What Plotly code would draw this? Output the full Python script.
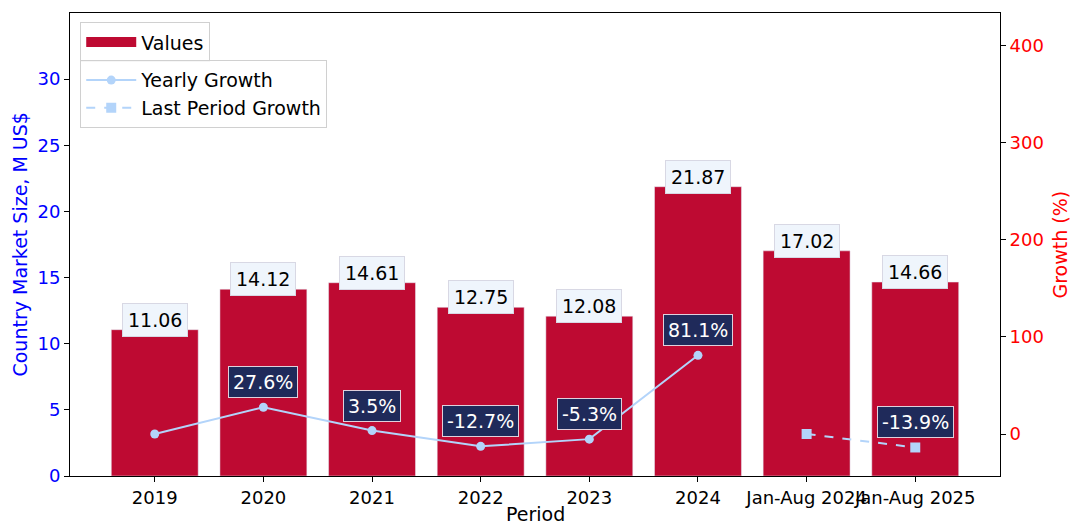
import plotly.graph_objects as go

# ---- data ----
periods = ['2019', '2020', '2021', '2022', '2023', '2024', 'Jan-Aug 2024', 'Jan-Aug 2025']
values = [11.06, 14.12, 14.61, 12.75, 12.08, 21.87, 17.02, 14.66]
yearly_periods = ['2019', '2020', '2021', '2022', '2023', '2024']
yearly_growth = [0, 27.6, 3.5, -12.7, -5.3, 81.1]
last_periods = ['Jan-Aug 2024', 'Jan-Aug 2025']
last_growth = [0, -13.9]

FONT = 'DejaVu Sans'
BAR = '#BE0A32'
LINE = '#B3D4FA'

fig = go.Figure()

fig.add_trace(go.Bar(x=periods, y=values, name='Values', marker_color=BAR,
                     width=0.8, showlegend=False))
# legend entry for the bars (wide patch like the original)
fig.add_trace(go.Scatter(x=[None], y=[None], name='Values', mode='lines',
                         line=dict(color=BAR, width=14), legend='legend'))
fig.add_trace(go.Scatter(x=yearly_periods, y=yearly_growth, name='Yearly Growth',
                         mode='lines+markers', yaxis='y2', legend='legend2',
                         line=dict(color=LINE, width=2),
                         marker=dict(color=LINE, size=9, symbol='circle')))
fig.add_trace(go.Scatter(x=last_periods, y=last_growth, name='Last Period Growth',
                         mode='lines+markers', yaxis='y2', legend='legend2',
                         line=dict(color=LINE, width=2, dash='dash'),
                         marker=dict(color=LINE, size=10, symbol='square')))

# value labels above bars
for i, v in enumerate(values):
    fig.add_annotation(x=i, y=v, yref='y', text=f'{v:.2f}', showarrow=False,
                       yshift=10, font=dict(family=FONT, size=19, color='black'),
                       bgcolor='#EFF5FC', bordercolor='#D8D8E4', borderwidth=1,
                       borderpad=5)

# growth labels (skip the first point of each series)
for per, g in [(yearly_periods, yearly_growth), (last_periods, last_growth)]:
    for p, v in list(zip(per, g))[1:]:
        fig.add_annotation(x=periods.index(p), y=v, yref='y2', text=f'{v:.1f}%',
                           showarrow=False, yshift=25,
                           font=dict(family=FONT, size=19, color='white'),
                           bgcolor='#1F2A5A', bordercolor='#E0D0DC', borderwidth=1,
                           borderpad=4)

# axis titles
fig.add_annotation(xref='paper', yref='paper', x=0.5, y=-0.082, yanchor='middle',
                   text='Period', showarrow=False, font=dict(size=19, color='black'))
fig.add_annotation(xref='paper', x=-0.0548, xanchor='center', yref='paper', y=0.5,
                   text='Country Market Size, M US$', textangle=-90, showarrow=False,
                   font=dict(size=19, color='#0000FF'))
fig.add_annotation(xref='paper', x=1.0635, xanchor='center', yref='paper', y=0.5,
                   text='Growth (%)', textangle=-90, showarrow=False,
                   font=dict(size=19, color='#FF0000'))

fig.update_layout(
    width=1070, height=524,
    margin=dict(l=70, r=70, t=13, b=48),
    plot_bgcolor='white', paper_bgcolor='white',
    font=dict(family=FONT, size=18, color='black'),
    xaxis=dict(type='category', range=[-0.78, 7.78], tickangle=0, automargin=False,
               showline=True, linecolor='black', linewidth=1, mirror=True,
               ticks='outside', ticklen=5, tickcolor='black',
               tickfont=dict(size=18)),
    yaxis=dict(range=[0, 35], tickvals=[0, 5, 10, 15, 20, 25, 30], showgrid=False,
               zeroline=False, automargin=False,
               showline=True, linecolor='black', linewidth=1,
               ticks='outside', ticklen=5, tickcolor='black',
               tickfont=dict(color='#0000FF', size=18)),
    yaxis2=dict(overlaying='y', side='right', range=[-43.3, 434],
                tickvals=[0, 100, 200, 300, 400], showgrid=False, zeroline=False,
                automargin=False,
                showline=True, linecolor='black', linewidth=1,
                ticks='outside', ticklen=5, tickcolor='black',
                tickfont=dict(color='#FF0000', size=18)),
    legend=dict(x=0.011, y=0.98, xanchor='left', yanchor='top', itemwidth=50,
                bgcolor='rgba(255,255,255,0.8)', bordercolor='#D0D0D0', borderwidth=1,
                font=dict(size=19)),
    legend2=dict(x=0.011, y=0.898, xanchor='left', yanchor='top', itemwidth=50,
                 bgcolor='rgba(255,255,255,0.8)', bordercolor='#D0D0D0', borderwidth=1,
                 font=dict(size=19), tracegroupgap=0),
    showlegend=True,
)

fig.write_html('out.html', config={'displayModeBar': False},
               post_script="document.body.style.margin='0';")
